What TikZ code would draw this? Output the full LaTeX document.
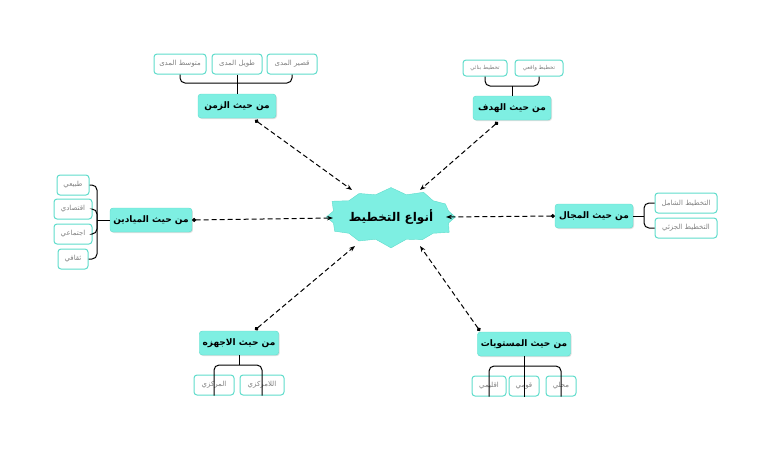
\documentclass[tikz,border=0pt]{standalone}
\usepackage{fontspec}
\newfontfamily\ar[Script=Arabic]{DejaVu Sans}
\TeXXeTstate=1
\usetikzlibrary{shapes.symbols,shadows,arrows.meta}
\definecolor{tq}{HTML}{7EEFE2}
\definecolor{tqd}{HTML}{5FDCCB}
\definecolor{gtx}{HTML}{808080}
\tikzset{
 topic/.style={rounded corners=3pt,fill=tq,draw=tqd,line width=0.4pt,minimum width=78pt,minimum height=24pt,font=\ar\bfseries\fontsize{9}{10}\selectfont,drop shadow={opacity=0.25,shadow xshift=1pt,shadow yshift=-1pt}},
 leaf/.style={rounded corners=3pt,fill=white,draw=tqd,line width=1pt,minimum height=20pt,inner xsep=5pt,font=\ar\fontsize{7}{8}\selectfont,text=gtx},
 link/.style={dashed,line width=1pt,dash pattern=on 5pt off 3pt,{Circle[length=4pt]}-{Stealth[length=6pt]}},
 br/.style={line width=1pt,rounded corners=5pt},
}
\newcommand{\R}[1]{\beginR #1\endR}
\begin{document}
\begin{tikzpicture}[x=1pt,y=-1pt]
\useasboundingbox (0,0) rectangle (768,451);
\node[starburst,starburst points=12,starburst point height=9pt,fill=tq,draw=tqd,minimum width=118pt,minimum height=64pt,inner sep=0pt,font=\ar\bfseries\fontsize{12}{13}\selectfont] (c) at (391,217) {\R{أنواع التخطيط}};
\node[topic] (t1) at (237,106) {\R{من حيث الزمن}};
\node[topic] (t2) at (512,108) {\R{من حيث الهدف}};
\node[topic] (t3) at (151,220) {\R{من حيث الميادين}};
\node[topic] (t4) at (594,216) {\R{من حيث المجال}};
\node[topic] (t5) at (239,343) {\R{من حيث الاجهزه}};
\node[topic,minimum width=92pt] (t6) at (524,344) {\R{من حيث المستويات}};
% leaves
\node[leaf,minimum width=50pt] (a1) at (292,64) {\R{قصير المدى}};
\node[leaf,minimum width=50pt] (a2) at (237,64) {\R{طويل المدى}};
\node[leaf,minimum width=52pt] (a3) at (180,64) {\R{متوسط المدى}};
\node[leaf,minimum height=16pt,font=\ar\fontsize{5.5}{6}\selectfont,minimum width=48pt] (b1) at (539,68) {\R{تخطيط واقعي}};
\node[leaf,minimum height=16pt,font=\ar\fontsize{5.5}{6}\selectfont,minimum width=44pt] (b2) at (485,68) {\R{تخطيط بنائي}};
\node[leaf,minimum width=32pt] (c1) at (73,185) {\R{طبيعي}};
\node[leaf,minimum width=38pt] (c2) at (73,209) {\R{اقتصادي}};
\node[leaf,minimum width=38pt] (c3) at (73,234) {\R{اجتماعي}};
\node[leaf,minimum width=30pt] (c4) at (73,259) {\R{ثقافي}};
\node[leaf,minimum width=62pt] (d1) at (686,203) {\R{التخطيط الشامل}};
\node[leaf,minimum width=62pt] (d2) at (686,228) {\R{التخطيط الجزئي}};
\node[leaf,minimum width=44pt] (e1) at (262,385) {\R{اللامركزي}};
\node[leaf,minimum width=40pt] (e2) at (214,385) {\R{المركزي}};
\node[leaf,minimum width=30pt] (f1) at (561,386) {\R{محلي}};
\node[leaf,minimum width=30pt] (f2) at (524,386) {\R{قومي}};
\node[leaf,minimum width=34pt] (f3) at (489,386) {\R{اقليمي}};
% brackets
\draw[br] (t1.north) -- (237,83);
\draw[br] (a3.south) |- (237,83) -| (a1.south); \draw[br] (a2.south) -- (237,83);
\draw[br] (t2.north) -- (512,86);
\draw[br] (b2.south) |- (512,86) -| (b1.south);
\draw[br] (t3.west) -- (97,220);
\draw[br] (c1.east) -| (97,220) |- (c4.east);
\draw[br] (c2.east) -| (97,220) |- (c3.east);
\draw[br] (t4.east) -- (644,216);
\draw[br] (d1.west) -| (644,216) |- (d2.west);
\draw[br] (t5.south) -- (239,365);
\draw[br] (e2.south) |- (239,365) -| (e1.south);
\draw[br] (t6.south) -- (524,366);
\draw[br] (f3.south) |- (524,366) -| (f1.south); \draw[br] (f2.south) -- (524,366);
% links
\coordinate (p1) at (352,190); \coordinate (p2) at (420,190);
\coordinate (p3) at (333,218); \coordinate (p4) at (446,217);
\coordinate (p5) at (355,246); \coordinate (p6) at (420,246);
\draw[link] (255,120) -- (p1);
\draw[link] (498,122) -- (p2);
\draw[link] (t3.east) -- (p3);
\draw[link] (t4.west) -- (p4);
\draw[link] (255,330) -- (p5);
\draw[link] (480,331) -- (p6);
\end{tikzpicture}
\end{document}
